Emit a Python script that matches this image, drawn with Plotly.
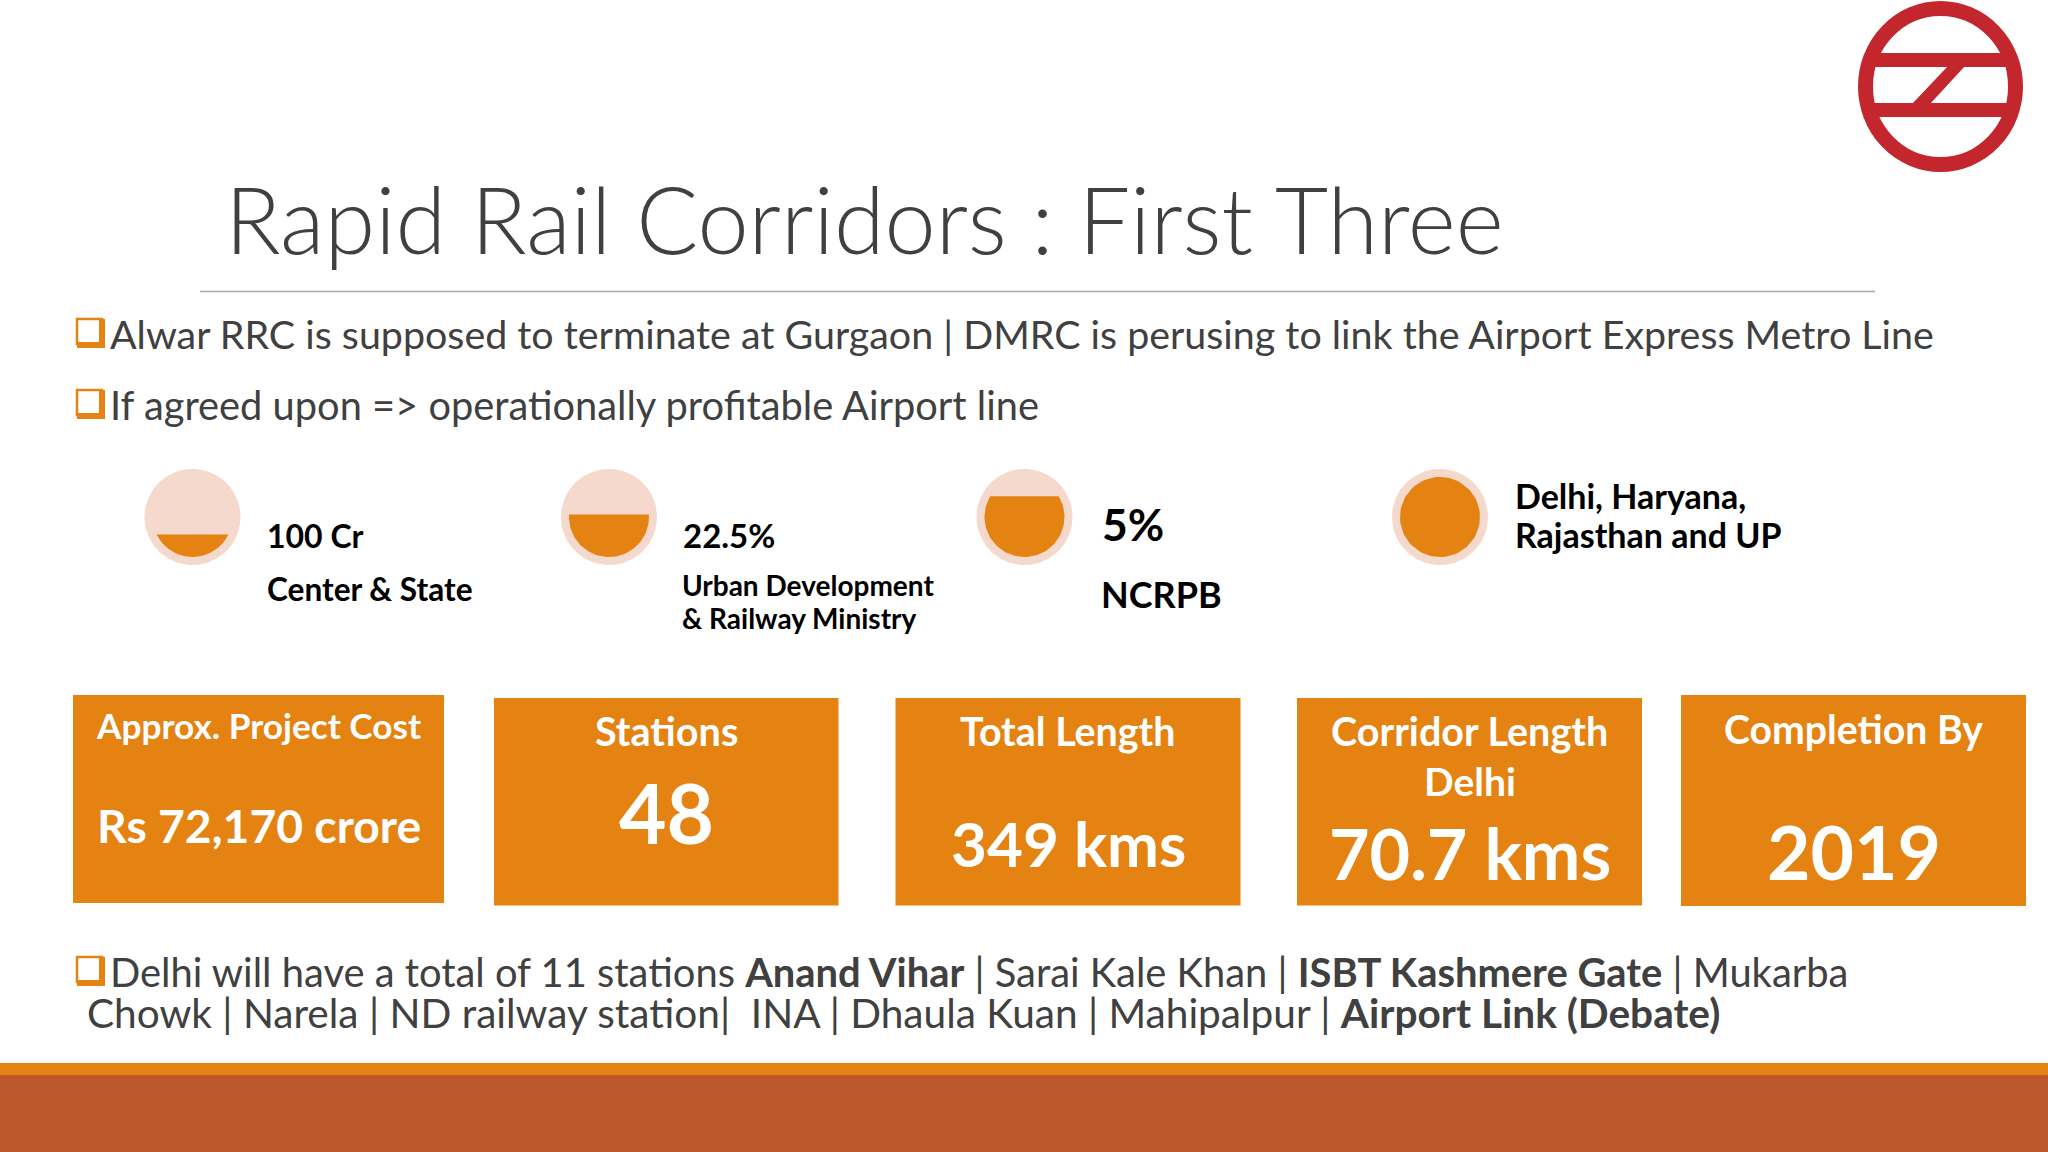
import numpy as np
import plotly.graph_objects as go

ORANGE = '#E48312'
PALE = '#F5D9CC'
RUST = '#BD582C'
RED = '#C3272D'
GREY = '#404040'
FONT = 'Lato'

title = 'Rapid Rail Corridors : First Three'
top_bullets = [
    'Alwar RRC is supposed to terminate at Gurgaon | DMRC is perusing to link the Airport Express Metro Line',
    'If agreed upon => operationally profitable Airport line',
]
bottom_lines = [
    'Delhi will have a total of 11 stations <b>Anand Vihar</b> | Sarai Kale Khan | <b>ISBT Kashmere Gate</b> | Mukarba',
    'Chowk | Narela | ND railway station|  INA | Dhaula Kuan | Mahipalpur | <b>Airport Link (Debate)</b>',
]

gauge_fill = [28, 53, 76, 100]
gauge_heads = ['100 Cr', '22.5%', '5%', 'Delhi, Haryana,']
gauge_subs = ['Center & State', 'Urban Development', 'NCRPB', 'Rajasthan and UP']

box_heads = ['Approx. Project Cost', 'Stations', 'Total Length', 'Corridor Length', 'Completion By']
box_values = ['Rs 72,170 crore', '48', '349 kms', '70.7 kms', '2019']

# layout, all in page pixels
gauge_cx = [192.5, 609, 1024.5, 1440]
gauge_cy = 517
box_edges = [(73, 444, 695, 903), (494, 838.5, 698, 905.5), (895.5, 1240.5, 698, 905.5),
             (1297, 1642, 698, 905.5), (1681, 2026, 695, 906)]

fig = go.Figure()
shapes = []
notes = []


def add_text(x, y, text, size, color=GREY, anchor='left', bold=False, weight=None):
    font = dict(family=FONT, size=size, color=color)
    if weight:
        font['weight'] = weight
    notes.append(dict(x=x, y=y, text=f'<b>{text}</b>' if bold else text, showarrow=False,
                      xanchor=anchor, yanchor='middle', xref='x', yref='y', font=font))


def rect(x0, x1, y0, y1, color):
    shapes.append(dict(type='rect', x0=x0, x1=x1, y0=y0, y1=y1, xref='x', yref='y',
                       fillcolor=color, line_width=0, layer='below'))


def bullet(x, y):
    shapes.append(dict(type='rect', x0=x + 1, x1=x + 26, y0=y + 1, y1=y + 26, xref='x', yref='y',
                       line=dict(color=ORANGE, width=2.5), layer='above'))
    rect(x + 23, x + 29, y + 1, y + 30, ORANGE)
    rect(x + 1, x + 29, y + 24, y + 30, ORANGE)


def add_gauge(cx, cy, level):
    t = np.linspace(0, 2 * np.pi, 121)
    fig.add_trace(go.Scatter(x=cx + 48 * np.cos(t), y=cy + 48 * np.sin(t), mode='lines',
                             fill='toself', fillcolor=PALE, line=dict(width=0), hoverinfo='skip'))
    # fill rises from the bottom of the inner disc up to the chord
    r = 40
    top = cy + r - 2 * r * level / 100
    a = np.arcsin(np.clip((top - cy) / r, -1, 1))
    t = np.linspace(a, np.pi - a, 81)
    fig.add_trace(go.Scatter(x=cx + r * np.cos(t), y=cy + r * np.sin(t), mode='lines',
                             fill='toself', fillcolor=ORANGE, line=dict(width=0), hoverinfo='skip'))


for cx, level in zip(gauge_cx, gauge_fill):
    add_gauge(cx, gauge_cy, level)

# title and rule
add_text(223, 218, title, 91.8, weight=300)
shapes.append(dict(type='line', x0=200, x1=1875, y0=291.5, y1=291.5, xref='x', yref='y',
                   line=dict(color='#A6A6A6', width=1.5)))

# bullets
bullet(76, 318)
bullet(76, 389)
bullet(76, 956)
add_text(108, 333, top_bullets[0], 39.4)
add_text(108, 404, top_bullets[1], 39.8)
add_text(108, 971, bottom_lines[0], 39.9)
add_text(85, 1012, bottom_lines[1], 40.6)

# gauge captions
add_text(265, 535, gauge_heads[0], 32, color='#000000', bold=True)
add_text(265, 589, gauge_subs[0], 31.6, color='#000000', bold=True)
add_text(681, 535, gauge_heads[1], 33, color='#000000', bold=True)
add_text(680, 585, gauge_subs[1], 28, color='#000000', bold=True)
add_text(680, 618, '& Railway Ministry', 28, color='#000000', bold=True)
add_text(1100, 523, gauge_heads[2], 44.5, color='#000000', bold=True)
add_text(1099, 594, gauge_subs[2], 36, color='#000000', bold=True)
add_text(1513, 495, gauge_heads[3], 34, color='#000000', bold=True)
add_text(1513, 534, gauge_subs[3], 34, color='#000000', bold=True)

# stat boxes
for x0, x1, y0, y1 in box_edges:
    rect(x0, x1, y0, y1, ORANGE)

head_y = [725, 730, 730, 730, 728]
head_size = [35.2, 39.6, 39.4, 39.5, 39.2]
value_y = [825, 812, 843, 853, 851]
value_size = [46.3, 82, 62, 70, 75]
for (x0, x1, y0, y1), head, value, hy, hs, vy, vs in zip(box_edges, box_heads, box_values,
                                                        head_y, head_size, value_y, value_size):
    mid = (x0 + x1) / 2
    add_text(mid, hy, head, hs, color='#FFFFFF', anchor='center', bold=True)
    add_text(mid, vy, value, vs, color='#FFFFFF', anchor='center', bold=True)
add_text(1469.5, 781, 'Delhi', 39, color='#FFFFFF', anchor='center', bold=True)

# footer bands
rect(0, 2048, 1063, 1076, ORANGE)
rect(0, 2048, 1075, 1152, RUST)

# metro logo
shapes.append(dict(type='circle', x0=1865.5, x1=2015.5, y0=8.5, y1=164.5, xref='x', yref='y',
                   line=dict(color=RED, width=15)))
rect(1866, 2015, 53, 67, RED)
rect(1866, 2015, 103, 117, RED)
shapes.append(dict(type='path', path='M 1948 66 L 1965 66 L 1930 104 L 1912 104 Z', xref='x', yref='y',
                   fillcolor=RED, line_width=0))

fig.update_layout(
    width=2048,
    height=1152,
    margin=dict(l=0, r=0, t=0, b=0),
    paper_bgcolor='#FFFFFF',
    plot_bgcolor='#FFFFFF',
    showlegend=False,
    xaxis=dict(range=[0, 2048], visible=False, fixedrange=True),
    yaxis=dict(range=[1152, 0], visible=False, fixedrange=True),
    shapes=shapes,
    annotations=notes,
)

fig.write_html("out.html", post_script="document.body.style.margin='0';", config={'displayModeBar': False})
